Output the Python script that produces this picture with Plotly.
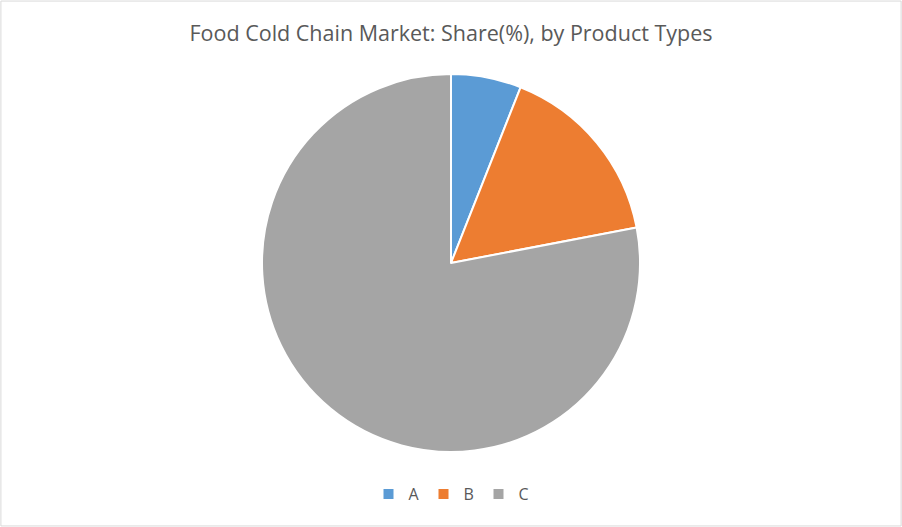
import plotly.graph_objects as go

# product type shares (%)
labels = ["A", "B", "C"]
shares = [6, 16, 78]
colors = ["#5B9BD5", "#ED7D31", "#A5A5A5"]

W, H = 902, 527

fig = go.Figure(
    go.Pie(
        labels=labels,
        values=shares,
        sort=False,
        direction="clockwise",
        rotation=0,
        textinfo="none",
        hoverinfo="label+percent",
        marker=dict(colors=colors, line=dict(color="white", width=2)),
        domain=dict(x=[0, 1], y=[1 - 452 / H, 1 - 74 / H]),
    )
)

fig.update_layout(
    width=W,
    height=H,
    margin=dict(l=0, r=0, t=0, b=0),
    paper_bgcolor="white",
    font=dict(family="Open Sans, Noto Sans, sans-serif", color="#595959"),
    title=dict(
        text="Food Cold Chain Market: Share(%), by Product Types",
        x=0.5,
        xanchor="center",
        y=1 - 33 / H,
        yanchor="middle",
        font=dict(size=21.5, color="#595959"),
    ),
    showlegend=True,
    legend=dict(
        orientation="h",
        x=0.5,
        xanchor="center",
        y=1 - 494 / H,
        yanchor="middle",
        font=dict(size=16, color="#595959"),
        itemwidth=30,
        entrywidth=10,
        entrywidthmode="pixels",
    ),
    shapes=[
        dict(
            type="rect",
            xref="paper",
            yref="paper",
            x0=0.001,
            x1=0.999,
            y0=0.002,
            y1=0.998,
            line=dict(color="#D9D9D9", width=1),
        )
    ],
)

# drop the default page margin so the figure fills the window
fig.write_html(
    "out.html",
    config={"displayModeBar": False},
    post_script="document.body.style.margin='0';",
)
